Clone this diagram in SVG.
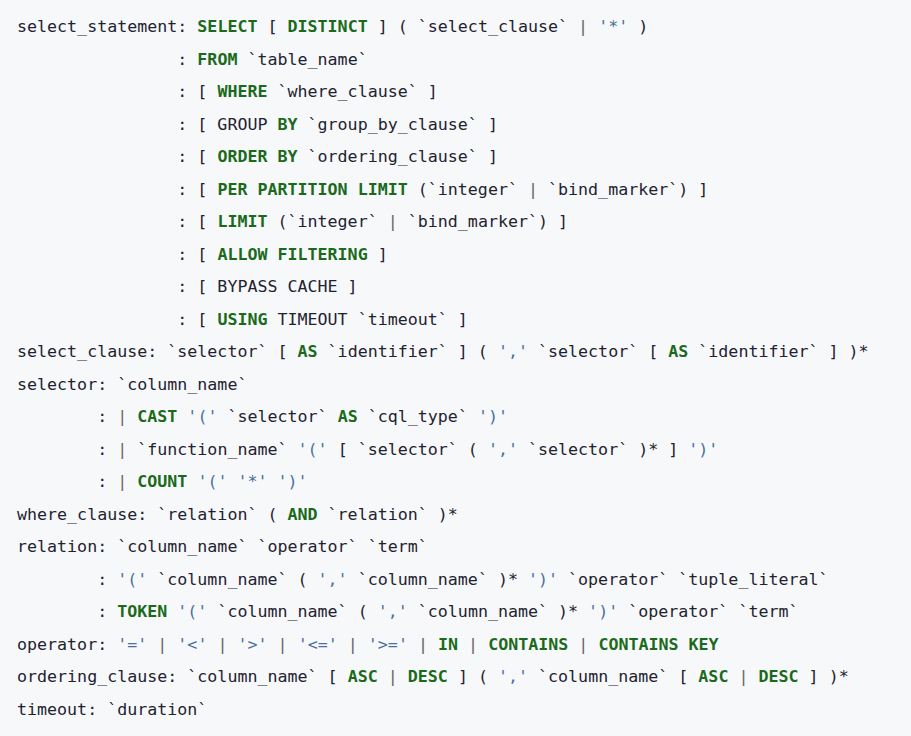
<svg xmlns="http://www.w3.org/2000/svg" width="911" height="736" viewBox="0 0 911 736">
<style>
text{font-family:"DejaVu Sans Mono","Liberation Mono",monospace;font-size:16.65px;fill:#1f2330;white-space:pre}
.k{fill:#1b6a1b;font-weight:bold}
.s{fill:#4a70a0}
.p{fill:#666}
</style>
<rect width="911" height="736" fill="#f7f8fa"/>
<g id="code" xml:space="preserve" transform="translate(0,1)">
<text x="17" y="31">select_statement: <tspan class="k">SELECT</tspan> [ <tspan class="k">DISTINCT</tspan> ] ( `select_clause` <tspan class="p">|</tspan> <tspan class="s">'*'</tspan> )</text>
<text x="17" y="63.5">                : <tspan class="k">FROM</tspan> `table_name`</text>
<text x="17" y="96">                : [ <tspan class="k">WHERE</tspan> `where_clause` ]</text>
<text x="17" y="128.5">                : [ GROUP <tspan class="k">BY</tspan> `group_by_clause` ]</text>
<text x="17" y="161">                : [ <tspan class="k">ORDER BY</tspan> `ordering_clause` ]</text>
<text x="17" y="193.5">                : [ <tspan class="k">PER PARTITION LIMIT</tspan> (`integer` <tspan class="p">|</tspan> `bind_marker`) ]</text>
<text x="17" y="226">                : [ <tspan class="k">LIMIT</tspan> (`integer` <tspan class="p">|</tspan> `bind_marker`) ]</text>
<text x="17" y="258.5">                : [ <tspan class="k">ALLOW FILTERING</tspan> ]</text>
<text x="17" y="291">                : [ BYPASS CACHE ]</text>
<text x="17" y="323.5">                : [ <tspan class="k">USING</tspan> TIMEOUT `timeout` ]</text>
<text x="17" y="356">select_clause: `selector` [ <tspan class="k">AS</tspan> `identifier` ] ( <tspan class="s">','</tspan> `selector` [ <tspan class="k">AS</tspan> `identifier` ] )*</text>
<text x="17" y="388.5">selector: `column_name`</text>
<text x="17" y="421">        : <tspan class="p">|</tspan> <tspan class="k">CAST</tspan> <tspan class="s">'('</tspan> `selector` <tspan class="k">AS</tspan> `cql_type` <tspan class="s">')'</tspan></text>
<text x="17" y="453.5">        : <tspan class="p">|</tspan> `function_name` <tspan class="s">'('</tspan> [ `selector` ( <tspan class="s">','</tspan> `selector` )* ] <tspan class="s">')'</tspan></text>
<text x="17" y="486">        : <tspan class="p">|</tspan> <tspan class="k">COUNT</tspan> <tspan class="s">'('</tspan> <tspan class="s">'*'</tspan> <tspan class="s">')'</tspan></text>
<text x="17" y="518.5">where_clause: `relation` ( <tspan class="k">AND</tspan> `relation` )*</text>
<text x="17" y="551">relation: `column_name` `operator` `term`</text>
<text x="17" y="583.5">        : <tspan class="s">'('</tspan> `column_name` ( <tspan class="s">','</tspan> `column_name` )* <tspan class="s">')'</tspan> `operator` `tuple_literal`</text>
<text x="17" y="616">        : <tspan class="k">TOKEN</tspan> <tspan class="s">'('</tspan> `column_name` ( <tspan class="s">','</tspan> `column_name` )* <tspan class="s">')'</tspan> `operator` `term`</text>
<text x="17" y="648.5">operator: <tspan class="s">'='</tspan> <tspan class="p">|</tspan> <tspan class="s">'&lt;'</tspan> <tspan class="p">|</tspan> <tspan class="s">'&gt;'</tspan> <tspan class="p">|</tspan> <tspan class="s">'&lt;='</tspan> <tspan class="p">|</tspan> <tspan class="s">'&gt;='</tspan> <tspan class="p">|</tspan> <tspan class="k">IN</tspan> <tspan class="p">|</tspan> <tspan class="k">CONTAINS</tspan> <tspan class="p">|</tspan> <tspan class="k">CONTAINS KEY</tspan></text>
<text x="17" y="681">ordering_clause: `column_name` [ <tspan class="k">ASC</tspan> <tspan class="p">|</tspan> <tspan class="k">DESC</tspan> ] ( <tspan class="s">','</tspan> `column_name` [ <tspan class="k">ASC</tspan> <tspan class="p">|</tspan> <tspan class="k">DESC</tspan> ] )*</text>
<text x="17" y="713.5">timeout: `duration`</text>
</g>
</svg>
